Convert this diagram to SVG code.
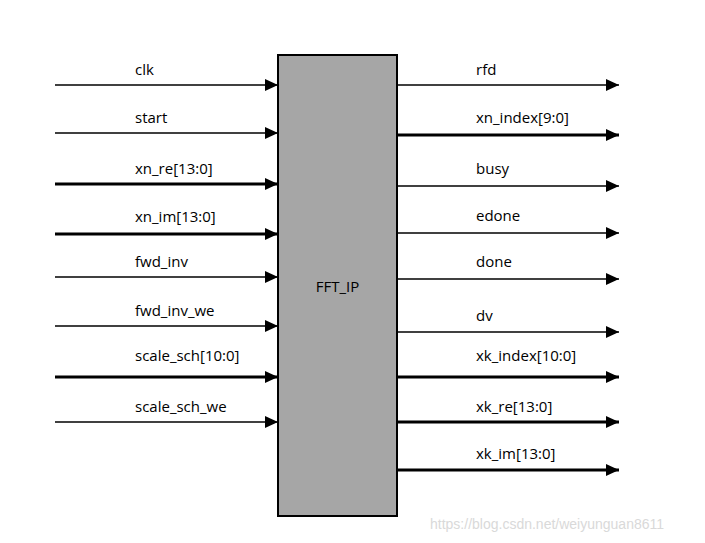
<svg xmlns="http://www.w3.org/2000/svg" width="705" height="543" viewBox="0 0 705 543">
<style>
text{font-family:"Open Sans","DejaVu Sans",sans-serif;font-size:15px;fill:#000}
.t{stroke:#000;stroke-width:1.5;fill:none}
.k{stroke:#000;stroke-width:3;fill:none}
.wm{font-family:"Liberation Sans",Arial,sans-serif;font-size:14px;fill:#d9d9d9}
</style>
<defs>
<marker id="a" markerUnits="userSpaceOnUse" markerWidth="14" markerHeight="12" refX="13" refY="6" orient="auto"><path d="M0,0L13,6L0,12Z" fill="#000"/></marker>
</defs>
<rect width="705" height="543" fill="#fff"/>
<g id="fft_ip"><rect x="278" y="55" width="119" height="461" fill="#a6a6a6" stroke="#000" stroke-width="2"/><text x="337.5" y="292" text-anchor="middle" font-size="17">FFT_IP</text></g>
<g id="connectors">
<path class="t" d="M55,85H278" marker-end="url(#a)"/>
<path class="t" d="M55,133H278" marker-end="url(#a)"/>
<path class="k" d="M55,184H278" marker-end="url(#a)"/>
<path class="k" d="M55,234H278" marker-end="url(#a)"/>
<path class="t" d="M55,277H278" marker-end="url(#a)"/>
<path class="t" d="M55,326H278" marker-end="url(#a)"/>
<path class="k" d="M55,377H278" marker-end="url(#a)"/>
<path class="t" d="M55,422H278" marker-end="url(#a)"/>
<path class="t" d="M397,85H619" marker-end="url(#a)"/>
<path class="k" d="M397,135H619" marker-end="url(#a)"/>
<path class="t" d="M397,186H619" marker-end="url(#a)"/>
<path class="t" d="M397,233H619" marker-end="url(#a)"/>
<path class="t" d="M397,279H619" marker-end="url(#a)"/>
<path class="t" d="M397,332H619" marker-end="url(#a)"/>
<path class="k" d="M397,377H619" marker-end="url(#a)"/>
<path class="k" d="M397,422H619" marker-end="url(#a)"/>
<path class="k" d="M397,470H619" marker-end="url(#a)"/>
</g>
<g id="labels">
<text x="135" y="75">clk</text>
<text x="135" y="123">start</text>
<text x="135" y="174">xn_re[13:0]</text>
<text x="135" y="222">xn_im[13:0]</text>
<text x="135" y="267">fwd_inv</text>
<text x="135" y="316">fwd_inv_we</text>
<text x="135" y="361">scale_sch[10:0]</text>
<text x="135" y="412">scale_sch_we</text>
<text x="476" y="75">rfd</text>
<text x="476" y="123">xn_index[9:0]</text>
<text x="476" y="174">busy</text>
<text x="476" y="221">edone</text>
<text x="476" y="267">done</text>
<text x="476" y="321">dv</text>
<text x="476" y="361">xk_index[10:0]</text>
<text x="476" y="412">xk_re[13:0]</text>
<text x="476" y="459">xk_im[13:0]</text>
</g>
<text class="wm" x="430" y="529">https://blog.csdn.net/weiyunguan8611</text>
</svg>
